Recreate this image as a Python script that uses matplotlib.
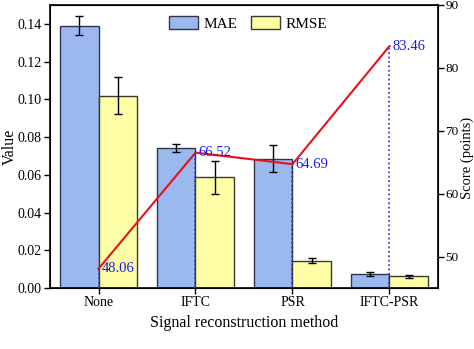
import numpy as np
import matplotlib
matplotlib.use('Agg')
import matplotlib.pyplot as plt

plt.rcParams['font.family'] = ['Liberation Serif', 'DejaVu Serif']

methods = ['None', 'IFTC', 'PSR', 'IFTC-PSR']
mae = [0.139, 0.0741, 0.0686, 0.0074]
mae_err = [0.005, 0.002, 0.0073, 0.001]
rmse = [0.102, 0.0586, 0.0145, 0.0062]
rmse_err = [0.0097, 0.0089, 0.0015, 0.0007]
score = [48.06, 66.52, 64.69, 83.46]

fig = plt.figure(figsize=(4.74, 3.49), dpi=100)
ax = fig.add_axes([0.1055, 0.1748, 0.8185, 0.8109])
x = np.arange(len(methods))
w = 0.4

ax.bar(x - w / 2, mae, w, yerr=mae_err, color='#9bb9ef', edgecolor='#2f3550',
       linewidth=1, capsize=3, error_kw=dict(elinewidth=1, capthick=1), label='MAE')
ax.bar(x + w / 2, rmse, w, yerr=rmse_err, color='#fefea6', edgecolor='#3a3a30',
       linewidth=1, capsize=3, error_kw=dict(elinewidth=1, capthick=1), label='RMSE')

ax.set_xlim(-0.5, 3.5)
ax.set_ylim(0, 0.15)
ax.set_yticks(np.arange(0, 0.15, 0.02))
ax.set_yticklabels(['%.2f' % v for v in np.arange(0, 0.15, 0.02)])
ax.set_xticks(x)
ax.set_xticklabels(methods)
ax.tick_params(labelsize=10, direction='out', length=4, width=1, pad=2)
ax.set_xlabel('Signal reconstruction method', fontsize=11.5, labelpad=4)
ax.set_ylabel('Value', fontsize=11.5)
ax.yaxis.set_label_coords(-0.082, 0.5)
for s in ax.spines.values():
    s.set_linewidth(1.2)

ax2 = ax.twinx()
ax2.set_ylim(45, 90)
ax2.set_yticks([50, 60, 70, 80, 90])
ax2.tick_params(labelsize=9.5, length=4, width=1, pad=1.5)
ax2.set_ylabel('Score (points)', fontsize=10.5)
ax2.yaxis.set_label_coords(1.057, 0.46)
ax2.plot(x, score, color='#e8101a', linewidth=1.5)
for xi, s in zip(x, score):
    ax2.vlines(xi, 45, s, colors='#2a2ad0', linestyles=':', linewidth=1.2)
    ax2.text(xi + 0.03, s, '%.2f' % s, color='#1a1ae0', fontsize=10.5,
             ha='left', va='center')

ax.legend(loc='upper left', ncol=2, frameon=False, fontsize=11,
          bbox_to_anchor=(0.28, 1.0), borderaxespad=0.3, handlelength=1.9,
          handleheight=0.95, handletextpad=0.35, columnspacing=0.9)

fig.savefig('out.png', dpi=100)
